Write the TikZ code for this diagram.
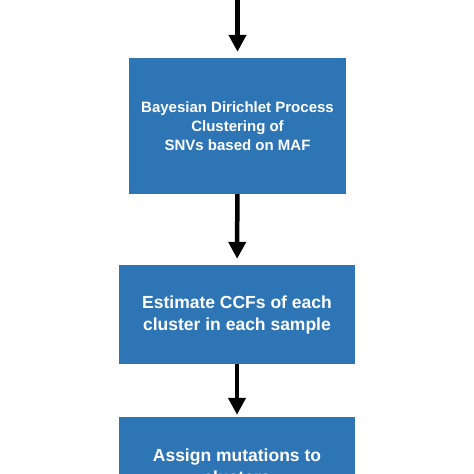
\documentclass[tikz,border=0pt]{standalone}
\usepackage{fontspec}
\setmainfont{Liberation Sans}
\usetikzlibrary{arrows.meta}
\definecolor{stepblue}{RGB}{46,117,182}

\begin{document}
\begin{tikzpicture}[x=1pt, y=1pt,
    stepbox/.style={rectangle, fill=stepblue, text=white, align=center, inner sep=0pt},
    flow/.style={-{Triangle[width=17pt,length=17pt]}, line width=4.5pt, shorten >=6pt}]

    \useasboundingbox (0,0) rectangle (474,-474);

    % Incoming arrow from above
    \coordinate (top) at (237.5,0);

    % Clustering step
    \node[stepbox, minimum width=217pt, minimum height=136pt, font=\fontsize{15}{19}\selectfont\bfseries] (cluster) at (237.5,-126) {Bayesian Dirichlet Process\\Clustering of\\SNVs based on MAF};

    % CCF estimation step
    \node[stepbox, minimum width=236pt, minimum height=99pt, font=\fontsize{17.5}{22}\selectfont\bfseries] (ccf) at (237,-314.5) {Estimate CCFs of each\\cluster in each sample};

    % Assignment step (cut off at the bottom)
    \node[stepbox, minimum width=236pt, minimum height=99pt, font=\fontsize{17.5}{22}\selectfont\bfseries] (assign) at (237,-466.5) {Assign mutations to\\clusters};

    \draw[flow] (top) -- (cluster);
    \draw[flow] (cluster) -- (ccf);
    \draw[flow, shorten >=2pt] (ccf) -- (assign);

\end{tikzpicture}
\end{document}
